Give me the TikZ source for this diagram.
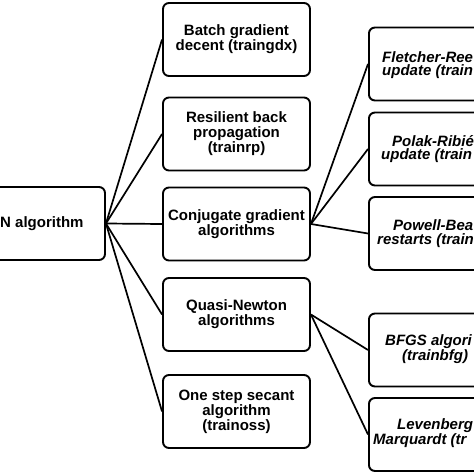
\documentclass[tikz,border=0pt]{standalone}
\usepackage{fontspec}
\setmainfont{Liberation Sans}
\begin{document}
\begin{tikzpicture}[x=1pt,y=-1pt,
  boxshape/.style={draw, line width=1.9pt, rounded corners=6pt, minimum height=73pt, inner sep=0pt},
  midbox/.style={boxshape, minimum width=147pt, align=center, font=\bfseries\fontsize{15}{15}\selectfont},
  rightbox/.style={boxshape, minimum width=150pt, anchor=west},
  itxt/.style={anchor=west, inner sep=0pt, font=\bfseries\itshape\fontsize{15}{15}\selectfont},
  btxt/.style={anchor=west, inner sep=0pt, font=\bfseries\fontsize{15}{15}\selectfont},
  link/.style={line width=1.7pt}]
\useasboundingbox (0,0) rectangle (474,474);
\clip (0,0) rectangle (474,474);
% root box (cut at left edge)
\node[boxshape, minimum width=170pt] (root) at (20,223.5) {};
\node[btxt] (rootlabel) at (0,223.5) {N algorithm};
% middle column
\node[midbox] (m1) at (236.5,39.5) {Batch gradient\\decent (traingdx)};
\node[midbox] (m2) at (236.5,134) {Resilient back\\propagation\\(trainrp)};
\node[midbox] (m3) at (236.5,224) {Conjugate gradient\\algorithms};
\node[midbox] (m4) at (236.5,314.5) {Quasi-Newton\\algorithms};
\node[midbox] (m5) at (236.5,411.5) {One step secant\\algorithm\\(trainoss)};
% right column boxes (cut at right edge)
\node[rightbox] (r1) at (368,64) {};
\node[rightbox] (r2) at (368,149) {};
\node[rightbox] (r3) at (368,233.5) {};
\node[rightbox] (r4) at (368,350) {};
\node[rightbox] (r5) at (368,434.5) {};
% right texts
\node[itxt] (r1a) at (382,57) {Fletcher-Ree};
\node[itxt] (r1b) at (382,72) {update (train};
\node[itxt] (r2a) at (392,141) {Polak-Ribié};
\node[itxt] (r2b) at (381,156) {update (train};
\node[itxt] (r3a) at (393,225) {Powell-Bea};
\node[itxt] (r3b) at (377,241) {restarts (train};
\node[itxt] (r4a) at (385,342) {BFGS algori};
\node[itxt] (r4b) at (402,357) {(trainbfg)};
\node[itxt] (r5a) at (397,426) {Levenberg};
\node[itxt] (r5b) at (373,441) {Marquardt (tr};
% connectors
\foreach \m in {m1,m2,m3,m4,m5} \draw[link] (root.east) -- (\m.west);
\foreach \r in {r1,r2,r3} \draw[link] (m3.east) -- (\r.west);
\foreach \r in {r4,r5} \draw[link] (m4.east) -- (\r.west);
\end{tikzpicture}
\end{document}
